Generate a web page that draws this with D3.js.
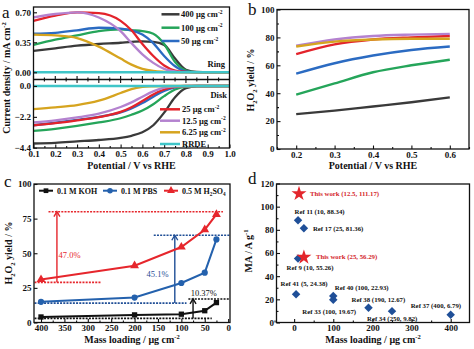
<!DOCTYPE html>
<html>
<head>
<meta charset="utf-8">
<script src="https://cdn.jsdelivr.net/npm/d3@7"></script>
<style>
  body { margin: 0; background: #fff; }
  svg { display: block; }
</style>
</head>
<body>
<script>
// ---------- data ----------

// panel a: RRDE ring / disk currents (mA cm-2) vs potential (V vs RHE)
var loadings = ["400", "100", "50", "25", "12.5", "6.25"];
var potentialA = [0.1, 0.2, 0.3, 0.4, 0.5, 0.55, 0.6, 0.65, 0.7, 0.75, 0.8, 0.85, 1.0];
var ringCurrent = [
  [0.25, 0.28, 0.31, 0.33, 0.345, 0.355, 0.36, 0.355, 0.32, 0.16, 0.03, 0.005, 0],
  [0.32, 0.38, 0.43, 0.48, 0.50, 0.49, 0.48, 0.45, 0.33, 0.12, 0.02, 0, 0],
  [0.45, 0.46, 0.49, 0.52, 0.51, 0.49, 0.44, 0.34, 0.19, 0.07, 0.01, 0, 0],
  [0.60, 0.66, 0.70, 0.69, 0.60, 0.49, 0.33, 0.19, 0.08, 0.02, 0.005, 0, 0],
  [0.64, 0.68, 0.70, 0.64, 0.48, 0.34, 0.21, 0.11, 0.04, 0.01, 0, 0, 0],
  [0.44, 0.43, 0.40, 0.30, 0.16, 0.09, 0.04, 0.015, 0.005, 0, 0, 0, 0]
];
var diskCurrent = [
  [-4.1, -4.05, -3.95, -3.85, -3.7, -3.55, -3.3, -2.8, -1.9, -0.8, -0.15, -0.02, 0],
  [-3.2, -3.05, -2.85, -2.6, -2.3, -2.05, -1.75, -1.3, -0.72, -0.25, -0.04, 0, 0],
  [-2.8, -2.62, -2.42, -2.2, -1.88, -1.6, -1.22, -0.76, -0.35, -0.1, -0.01, 0, 0],
  [-2.8, -2.65, -2.45, -2.22, -1.85, -1.52, -1.07, -0.6, -0.25, -0.06, 0, 0, 0],
  [-2.6, -2.45, -2.24, -1.97, -1.5, -1.17, -0.76, -0.38, -0.12, -0.02, 0, 0, 0],
  [-1.65, -1.52, -1.36, -1.05, -0.5, -0.22, -0.07, -0.02, 0, 0, 0, 0, 0]
];
var ringTicks = [0, 0.35, 0.70];
var diskTicks = [0, -2.2, -4.4];

// panel b: H2O2 yield (%) vs potential
var potentialB = [0.2, 0.3, 0.4, 0.5, 0.6];
var yieldB = [
  [25, 27.5, 30.5, 33.5, 37],
  [39, 47, 55, 60, 64],
  [54, 61.5, 67, 71, 73.5],
  [68, 75, 78.5, 80, 81],
  [74, 78.5, 81, 82, 82.5],
  [73.5, 77, 78.5, 79, 79]
];

// panel c: H2O2 yield vs mass loading in three electrolytes
var massC = [400, 200, 100, 50, 25];
var electrolytes = ["0.1 M KOH", "0.1 M PBS", "0.5 M H_{2}SO_{4}"];
var yieldKOH = [4.0, 5.5, 6.0, 8.5, 14.37];
var yieldPBS = [14.9, 18, 28.5, 36, 60.0];
var yieldH2SO4 = [31.0, 41, 54.5, 67, 78.0];
// increase from highest to lowest loading: arrow position, low / high level, label spot
var gapLabels = ["10.37%", "45.1%", "47.0%"];
var gapAt = [75, 114, 366];
var gapLow = [3, 14, 29];
var gapHigh = [17, 63, 80];
var gapLowSpan = [[414, 35], [414, 89], [414, 272]];
var gapHighSpan = [[85, -4], [159, -4], [384, 11]];
var gapText = [[52, 21], [151, 35], [339, 48.5]];

// panel d: mass activity vs mass loading
var refNames = ["Ref 11", "Ref 17", "Ref 9", "Ref 41", "Ref 40", "Ref 33", "Ref 38", "Ref 34", "Ref 37"];
var refLoading = [10, 25, 10, 5, 100, 100, 190, 250, 400];
var refMA = [88.34, 81.36, 55.26, 24.38, 22.93, 19.67, 12.67, 9.82, 6.79];
var workLoading = [12.5, 25];
var workMA = [111.17, 56.29];

// ---------- drawing ----------

var FONT = "'Liberation Serif', 'Times New Roman', serif";
var curveColors = ["#3a3a3a", "#25a55a", "#2b6bc2", "#e3232b", "#b482cf", "#d6a41f"];
var rrdeColor = "#3fc5c8";

var svg = d3.select("body")
  .append("svg")
  .attr("width", 474)
  .attr("height", 349)
  .attr("font-family", FONT);

// text with ^{sup} and _{sub} pieces
function rich(sel, str, size) {
  var parts = str.split(/(\^\{[^}]*\}|_\{[^}]*\})/).filter(function(s) { return s.length; });
  var shift = 0;
  parts.forEach(function(p) {
    var target = 0, txt = p, fs = size;
    if (p[0] === "^") { target = -0.38 * size; txt = p.slice(2, -1); fs = size * 0.65; }
    else if (p[0] === "_") { target = 0.25 * size; txt = p.slice(2, -1); fs = size * 0.65; }
    sel.append("tspan").attr("dy", target - shift).attr("font-size", fs).text(txt);
    shift = target;
  });
  return sel;
}

function label(x, y, str, size, opts) {
  opts = opts || {};
  var t = svg.append("text")
    .attr("x", x).attr("y", y)
    .attr("font-size", size)
    .attr("font-weight", opts.weight || "bold")
    .attr("text-anchor", opts.anchor || "middle")
    .attr("fill", opts.fill || "#111");
  if (opts.rotate) t.attr("transform", "rotate(-90," + x + "," + y + ")");
  return rich(t, str, size);
}

function styleAxis(g, size) {
  g.select(".domain").remove();
  g.selectAll("text").attr("font-family", FONT).attr("font-size", size)
    .attr("font-weight", "bold").attr("fill", "#111");
  g.selectAll("line").attr("stroke", "#111").attr("stroke-width", 1.1);
}

function box(x0, y0, x1, y1) {
  svg.append("rect")
    .attr("x", x0).attr("y", y0)
    .attr("width", x1 - x0).attr("height", y1 - y0)
    .attr("fill", "none").attr("stroke", "#111").attr("stroke-width", 1.3);
}

function bottomAxis(scale, y, major, minor, fmt) {
  svg.append("g").attr("transform", "translate(0," + y + ")")
    .call(d3.axisBottom(scale).tickValues(minor).tickSize(-2).tickFormat(""))
    .call(function(g) { styleAxis(g, 9); });
  svg.append("g").attr("transform", "translate(0," + y + ")")
    .call(d3.axisBottom(scale).tickValues(major).tickSize(-3.5).tickPadding(2.5).tickFormat(fmt))
    .call(function(g) { styleAxis(g, 9); });
}

function leftAxis(scale, x, major, minor, fmt) {
  if (minor) {
    svg.append("g").attr("transform", "translate(" + x + ",0)")
      .call(d3.axisLeft(scale).tickValues(minor).tickSize(-2).tickFormat(""))
      .call(function(g) { styleAxis(g, 9); });
  }
  svg.append("g").attr("transform", "translate(" + x + ",0)")
    .call(d3.axisLeft(scale).tickValues(major).tickSize(-3.5).tickPadding(2.5).tickFormat(fmt))
    .call(function(g) { styleAxis(g, 9); });
}

// ----- panel a -----
var xA = d3.scaleLinear().domain([0.1, 1.0]).range([33.5, 229.5]);
var ringY = d3.scaleLinear().domain([0, 0.70]).range([72.3, 12.3]);
var diskY = d3.scaleLinear().domain([0, -4.4]).range([86, 147.7]);

var ringLine = d3.line().x(function(d) { return xA(d[0]); }).y(function(d) { return ringY(d[1]); }).curve(d3.curveMonotoneX);
var diskLine = d3.line().x(function(d) { return xA(d[0]); }).y(function(d) { return diskY(d[1]); }).curve(d3.curveMonotoneX);

ringCurrent.forEach(function(vals, i) {
  svg.append("path").datum(d3.zip(potentialA, vals))
    .attr("d", ringLine).attr("fill", "none")
    .attr("stroke", curveColors[i]).attr("stroke-width", 2.3);
});
diskCurrent.forEach(function(vals, i) {
  svg.append("path").datum(d3.zip(potentialA, vals))
    .attr("d", diskLine).attr("fill", "none")
    .attr("stroke", curveColors[i]).attr("stroke-width", 2.3);
});
// RRDE baselines
svg.append("path").datum([[0.1, 0], [1.0, 0]]).attr("d", ringLine)
  .attr("stroke", rrdeColor).attr("stroke-width", 2.6).attr("fill", "none");
svg.append("path").datum([[0.1, 0], [1.0, 0]]).attr("d", diskLine)
  .attr("stroke", rrdeColor).attr("stroke-width", 2.6).attr("fill", "none");

box(33.5, 7, 229.5, 148);
// ring / disk divider with ticks on both sides
var divY = 79.5;
svg.append("line").attr("x1", 33.5).attr("x2", 229.5).attr("y1", divY).attr("y2", divY)
  .attr("stroke", "#111").attr("stroke-width", 1.4);
d3.range(0.1, 1.001, 0.05).forEach(function(v, i) {
  var len = i % 2 === 0 ? 3.5 : 2;
  svg.append("line").attr("x1", xA(v)).attr("x2", xA(v))
    .attr("y1", divY - len).attr("y2", divY + len)
    .attr("stroke", "#111").attr("stroke-width", 1.1);
});

bottomAxis(xA, 148, d3.range(0.1, 1.001, 0.1), d3.range(0.15, 1.0, 0.1), d3.format(".1f"));
leftAxis(ringY, 33.5, ringTicks, null, d3.format(".2f"));
leftAxis(diskY, 33.5, diskTicks, null, d3.format(".1f"));

label(10, 78, "Current density / mA cm^{-2}", 10, { rotate: true });
label(131.5, 168.5, "Potential / V vs RHE", 10);
label(2, 18, "a", 17, { anchor: "start", weight: "normal" });
label(225, 67, "Ring", 8.5, { anchor: "end" });
label(227, 98, "Disk", 8.5, { anchor: "end" });

// legends inside panel a
var legTop = [14.3, 27.7, 41];
var legBottom = [109.3, 120.7, 132.3];
[0, 1, 2].forEach(function(i) {
  svg.append("line").attr("x1", 161.5).attr("x2", 179.5).attr("y1", legTop[i]).attr("y2", legTop[i])
    .attr("stroke", curveColors[i]).attr("stroke-width", 2.5);
  label(181, legTop[i] + 3, loadings[i] + " μg cm^{-2}", 8.5, { anchor: "start" });
});
[3, 4, 5].forEach(function(i) {
  var y = legBottom[i - 3];
  svg.append("line").attr("x1", 160).attr("x2", 180).attr("y1", y).attr("y2", y)
    .attr("stroke", curveColors[i]).attr("stroke-width", 2.5);
  label(182, y + 3, loadings[i] + " μg cm^{-2}", 8.5, { anchor: "start" });
});
svg.append("line").attr("x1", 160).attr("x2", 180).attr("y1", 144).attr("y2", 144)
  .attr("stroke", rrdeColor).attr("stroke-width", 2.5);
label(182, 147, "RRDE", 8.5, { anchor: "start" });

// ----- panel b -----
var xB = d3.scaleLinear().domain([0.15, 0.65]).range([277, 469]);
var yB = d3.scaleLinear().domain([0, 100]).range([149, 9.5]);
var lineB = d3.line().x(function(d) { return xB(d[0]); }).y(function(d) { return yB(d[1]); }).curve(d3.curveMonotoneX);

yieldB.forEach(function(vals, i) {
  svg.append("path").datum(d3.zip(potentialB, vals))
    .attr("d", lineB).attr("fill", "none")
    .attr("stroke", curveColors[i]).attr("stroke-width", 2.4);
});
box(277, 9.5, 469, 149);
bottomAxis(xB, 149, [0.2, 0.3, 0.4, 0.5, 0.6], [0.15, 0.25, 0.35, 0.45, 0.55, 0.65], d3.format(".1f"));
leftAxis(yB, 277, d3.range(0, 101, 20), d3.range(10, 100, 20), d3.format("d"));
label(254, 80, "H_{2}O_{2} yield / %", 10, { rotate: true });
label(373, 168.5, "Potential / V vs RHE", 10);
label(248, 15, "b", 17, { anchor: "start", weight: "normal" });

// ----- panel c -----
var xC = d3.scaleLinear().domain([415, -4]).range([34, 230]);
var yC = d3.scaleLinear().domain([0, 100]).range([322.5, 184]);
var seriesC = [yieldKOH, yieldPBS, yieldH2SO4];
var colorsC = ["#111111", "#2461ad", "#e6262c"];
var dashC = ["#111111", "#1f4e96", "#e6262c"];

// dotted reference levels and arrows
gapLabels.forEach(function(t, i) {
  svg.append("line")
    .attr("x1", xC(gapLowSpan[i][0])).attr("x2", xC(gapLowSpan[i][1]))
    .attr("y1", yC(gapLow[i])).attr("y2", yC(gapLow[i]))
    .attr("stroke", dashC[i]).attr("stroke-width", 1.6).attr("stroke-dasharray", "2,1.2");
  svg.append("line")
    .attr("x1", xC(gapHighSpan[i][0])).attr("x2", xC(gapHighSpan[i][1]))
    .attr("y1", yC(gapHigh[i])).attr("y2", yC(gapHigh[i]))
    .attr("stroke", dashC[i]).attr("stroke-width", 1.6).attr("stroke-dasharray", "2,1.2");
  var ax = xC(gapAt[i]), top = yC(gapHigh[i]);
  svg.append("line").attr("x1", ax).attr("x2", ax)
    .attr("y1", yC(gapLow[i])).attr("y2", top)
    .attr("stroke", dashC[i]).attr("stroke-width", 1.4);
  svg.append("path")
    .attr("d", "M" + (ax - 3) + "," + (top + 5) + "L" + ax + "," + top + "L" + (ax + 3) + "," + (top + 5))
    .attr("fill", "none").attr("stroke", dashC[i]).attr("stroke-width", 1.4);
  label(xC(gapText[i][0]), yC(gapText[i][1]) + 3, t, 8.5, { fill: dashC[i], weight: "normal" });
});

var lineC = d3.line().x(function(d) { return xC(d[0]); }).y(function(d) { return yC(d[1]); });
var markers = [d3.symbolSquare, d3.symbolCircle, d3.symbolTriangle];
var markerSize = [28, 30, 34];

seriesC.forEach(function(vals, i) {
  svg.append("path").datum(d3.zip(massC, vals))
    .attr("d", lineC).attr("fill", "none")
    .attr("stroke", colorsC[i]).attr("stroke-width", 2);
  svg.selectAll(".m" + i)
    .data(d3.zip(massC, vals))
    .enter()
    .append("path")
    .attr("transform", function(d) { return "translate(" + xC(d[0]) + "," + yC(d[1]) + ")"; })
    .attr("d", d3.symbol().type(markers[i]).size(markerSize[i]))
    .attr("fill", colorsC[i]);
});

box(34, 184, 230, 322.5);
bottomAxis(xC, 322.5, d3.range(0, 401, 50), d3.range(25, 400, 50), d3.format("d"));
leftAxis(yC, 34, [0, 25, 50, 75, 100], null, d3.format("d"));
label(12, 253, "H_{2}O_{2} yield / %", 10, { rotate: true });
label(132, 343, "Mass loading / μg cm^{-2}", 10);
label(4, 187, "c", 17, { anchor: "start", weight: "normal" });

// legend across the top of panel c
var legX = [39, 103, 164];
electrolytes.forEach(function(name, i) {
  var y = 190.7;
  svg.append("line").attr("x1", legX[i]).attr("x2", legX[i] + 14).attr("y1", y).attr("y2", y)
    .attr("stroke", colorsC[i]).attr("stroke-width", 2);
  svg.append("path").attr("transform", "translate(" + (legX[i] + 7) + "," + y + ")")
    .attr("d", d3.symbol().type(markers[i]).size(markerSize[i] * 0.8))
    .attr("fill", colorsC[i]);
  label(legX[i] + 18, y + 2.8, name, 8, { anchor: "start" });
});

// ----- panel d -----
var xD = d3.scaleLinear().domain([-45, 448]).range([276.5, 469.5]);
var yD = d3.scaleLinear().domain([0, 120]).range([322.5, 183.5]);
var refNudge = [[-3.5, -9], [9, 0], [-11.5, 9], [-15.5, -11], [1.5, -8], [-31, 11.5], [-17, -8], [-25, 7], [-40, -9]];
var workNudge = [[11, 0], [12, -1]];

refLoading.forEach(function(v, i) {
  var px = xD(v), py = yD(refMA[i]);
  svg.append("path")
    .attr("transform", "translate(" + px + "," + py + ") rotate(45)")
    .attr("d", d3.symbol().type(d3.symbolSquare).size(36))
    .attr("fill", "#1f4f98");
  label(px + refNudge[i][0], py + refNudge[i][1] + 2.4,
    refNames[i] + " (" + v + ", " + refMA[i] + ")", 6.8, { anchor: "start" });
});
workLoading.forEach(function(v, i) {
  var px = xD(v), py = yD(workMA[i]);
  svg.append("path")
    .attr("transform", "translate(" + px + "," + py + ")")
    .attr("d", d3.symbol().type(d3.symbolStar).size(70))
    .attr("fill", "#e3262c");
  label(px + workNudge[i][0], py + workNudge[i][1] + 2.4,
    "This work (" + v + ", " + workMA[i] + ")", 6.8, { anchor: "start", fill: "#d4262c" });
});

box(276.5, 184, 469.5, 322.5);
bottomAxis(xD, 322.5, [0, 100, 200, 300, 400], [-50, 50, 150, 250, 350], d3.format("d"));
leftAxis(yD, 276.5, d3.range(0, 121, 20), d3.range(10, 120, 20), d3.format("d"));
label(252, 251, "MA / A g^{-1}", 10, { rotate: true });
label(373, 343, "Mass loading / μg cm^{-2}", 10);
label(248, 184, "d", 17, { anchor: "start", weight: "normal" });
</script>
</body>
</html>
